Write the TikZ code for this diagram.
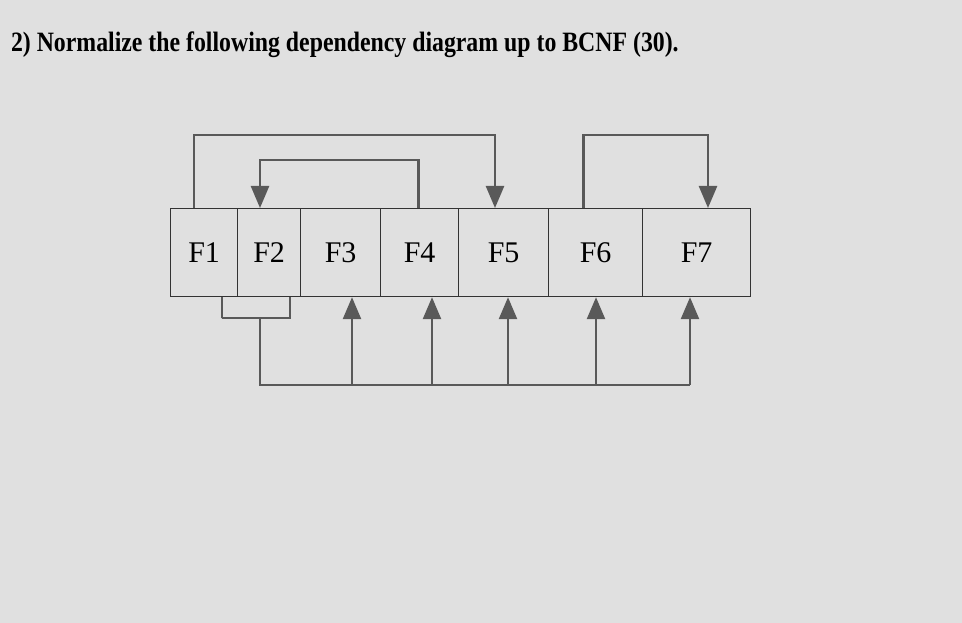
\documentclass[tikz,border=0pt]{standalone}
\usepackage{fontspec}
\setmainfont{Liberation Serif}
\usetikzlibrary{arrows.meta}
\begin{document}
\begin{tikzpicture}[x=1pt,y=-1pt,
  cell/.style={draw=black!80,line width=1.2pt,minimum height=88pt,inner sep=0pt,anchor=north west,font=\fontsize{30}{30}\selectfont},
  dep/.style={draw=black!65,line width=2.5pt},
  arr/.style={dep,-{Triangle[width=18pt,length=22pt]}}]
\fill[black!12] (0,0) rectangle (962,623);
\useasboundingbox (0,0) rectangle (962,623);
\node[anchor=west,font=\bfseries\fontsize{28}{28}\selectfont,xscale=0.85,transform shape] (title) at (8,45) {2) Normalize the following dependency diagram up to BCNF (30).};
\node[cell,minimum width=67pt] (f1) at (170,208) {F1};
\node[cell,minimum width=63pt] (f2) at (237,208) {F2};
\node[cell,minimum width=80pt] (f3) at (300,208) {F3};
\node[cell,minimum width=78pt] (f4) at (380,208) {F4};
\node[cell,minimum width=90pt] (f5) at (458,208) {F5};
\node[cell,minimum width=94pt] (f6) at (548,208) {F6};
\node[cell,minimum width=108pt] (f7) at (642,208) {F7};
% above
\draw[arr] ([xshift=-10pt]f1.north) |- (495,135) -- (f5.north -| 495,0);
\draw[arr] ([xshift=-1pt]f4.north) |- (260,160) -- (f2.north -| 260,0);
\draw[arr] ([xshift=-12pt]f6.north) |- (708,135) -- (f7.north -| 708,0);
% below
\coordinate (b1) at (222,318);
\coordinate (b2) at (260,318);
\draw[dep] ([xshift=18pt]f1.south) |- (b1) -- (290,318) -- (f2.south -| 290,0);
\draw[dep] (b2) |- (690,385);
\foreach \x/\c in {352/f3,432/f4,508/f5,596/f6,690/f7}
  \draw[arr] (\x,385) -- (\c.south -| \x,0);
\end{tikzpicture}
\end{document}
